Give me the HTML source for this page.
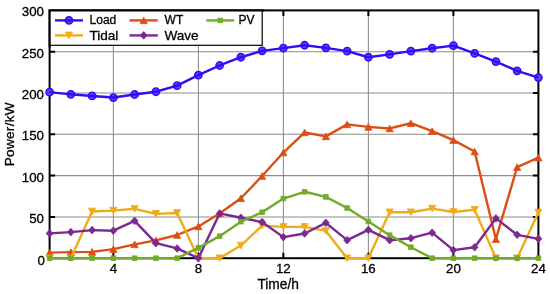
<!DOCTYPE html>
<html><head><meta charset="utf-8"><title>Power chart</title>
<style>
html,body{margin:0;padding:0;background:#fff;width:550px;height:294px;overflow:hidden}
svg text{font-family:"Liberation Sans",Arial,sans-serif;fill:#000;stroke:#000;stroke-width:0.3px}
</style></head><body>
<svg width="550" height="294" viewBox="0 0 550 294" style="display:block">
<rect width="550" height="294" fill="#fff"/>
<path d="M113.36 10.4V258.2M198.37 10.4V258.2M283.37 10.4V258.2M368.38 10.4V258.2M453.39 10.4V258.2M49.6 216.9H538.4M49.6 175.6H538.4M49.6 134.3H538.4M49.6 93H538.4M49.6 51.7H538.4" stroke="#8c8c8c" stroke-width="1.05" fill="none"/>
<path d="M113.36 258.2v-5.5M113.36 10.4v5.5M198.37 258.2v-5.5M198.37 10.4v5.5M283.37 258.2v-5.5M283.37 10.4v5.5M368.38 258.2v-5.5M368.38 10.4v5.5M453.39 258.2v-5.5M453.39 10.4v5.5M49.6 216.9h5.5M538.4 216.9h-5.5M49.6 175.6h5.5M538.4 175.6h-5.5M49.6 134.3h5.5M538.4 134.3h-5.5M49.6 93h5.5M538.4 93h-5.5M49.6 51.7h5.5M538.4 51.7h-5.5" stroke="#000" stroke-width="2" fill="none"/>
<rect x="49.6" y="10.4" width="488.8" height="247.8" fill="none" stroke="#000" stroke-width="2"/>
<circle cx="49.6" cy="92.17" r="3.65" fill="#5a44f6" stroke="#300cf8" stroke-width="1.5"/>
<circle cx="70.85" cy="94.32" r="3.65" fill="#5a44f6" stroke="#300cf8" stroke-width="1.5"/>
<circle cx="92.1" cy="95.97" r="3.65" fill="#5a44f6" stroke="#300cf8" stroke-width="1.5"/>
<circle cx="113.36" cy="97.54" r="3.65" fill="#5a44f6" stroke="#300cf8" stroke-width="1.5"/>
<circle cx="134.61" cy="94.49" r="3.65" fill="#5a44f6" stroke="#300cf8" stroke-width="1.5"/>
<circle cx="155.86" cy="91.76" r="3.65" fill="#5a44f6" stroke="#300cf8" stroke-width="1.5"/>
<circle cx="177.11" cy="85.65" r="3.65" fill="#5a44f6" stroke="#300cf8" stroke-width="1.5"/>
<circle cx="198.37" cy="75.16" r="3.65" fill="#5a44f6" stroke="#300cf8" stroke-width="1.5"/>
<circle cx="219.62" cy="65.49" r="3.65" fill="#5a44f6" stroke="#300cf8" stroke-width="1.5"/>
<circle cx="240.87" cy="57.23" r="3.65" fill="#5a44f6" stroke="#300cf8" stroke-width="1.5"/>
<circle cx="262.12" cy="50.87" r="3.65" fill="#5a44f6" stroke="#300cf8" stroke-width="1.5"/>
<circle cx="283.37" cy="48.07" r="3.65" fill="#5a44f6" stroke="#300cf8" stroke-width="1.5"/>
<circle cx="304.63" cy="45.26" r="3.65" fill="#5a44f6" stroke="#300cf8" stroke-width="1.5"/>
<circle cx="325.88" cy="47.82" r="3.65" fill="#5a44f6" stroke="#300cf8" stroke-width="1.5"/>
<circle cx="347.13" cy="51.12" r="3.65" fill="#5a44f6" stroke="#300cf8" stroke-width="1.5"/>
<circle cx="368.38" cy="57.23" r="3.65" fill="#5a44f6" stroke="#300cf8" stroke-width="1.5"/>
<circle cx="389.63" cy="54.34" r="3.65" fill="#5a44f6" stroke="#300cf8" stroke-width="1.5"/>
<circle cx="410.89" cy="51.12" r="3.65" fill="#5a44f6" stroke="#300cf8" stroke-width="1.5"/>
<circle cx="432.14" cy="48.23" r="3.65" fill="#5a44f6" stroke="#300cf8" stroke-width="1.5"/>
<circle cx="453.39" cy="45.67" r="3.65" fill="#5a44f6" stroke="#300cf8" stroke-width="1.5"/>
<circle cx="474.64" cy="53.35" r="3.65" fill="#5a44f6" stroke="#300cf8" stroke-width="1.5"/>
<circle cx="495.9" cy="61.61" r="3.65" fill="#5a44f6" stroke="#300cf8" stroke-width="1.5"/>
<circle cx="517.15" cy="70.78" r="3.65" fill="#5a44f6" stroke="#300cf8" stroke-width="1.5"/>
<circle cx="538.4" cy="77.55" r="3.65" fill="#5a44f6" stroke="#300cf8" stroke-width="1.5"/>
<polyline points="49.6,92.17 70.85,94.32 92.1,95.97 113.36,97.54 134.61,94.49 155.86,91.76 177.11,85.65 198.37,75.16 219.62,65.49 240.87,57.23 262.12,50.87 283.37,48.07 304.63,45.26 325.88,47.82 347.13,51.12 368.38,57.23 389.63,54.34 410.89,51.12 432.14,48.23 453.39,45.67 474.64,53.35 495.9,61.61 517.15,70.78 538.4,77.55" fill="none" stroke="#300cf8" stroke-width="2.4" stroke-linejoin="round"/>
<polyline points="49.6,252.58 70.85,252.09 92.1,251.92 113.36,249.11 134.61,244.32 155.86,240.44 177.11,234.99 198.37,226.4 219.62,213.43 240.87,198.23 262.12,176.01 283.37,152.55 304.63,132.48 325.88,136.37 347.13,124.39 368.38,126.87 389.63,128.44 410.89,123.23 432.14,131.16 453.39,140.08 474.64,151.56 495.9,239.2 517.15,167.09 538.4,157.59" fill="none" stroke="#dd4e15" stroke-width="2.4" stroke-linejoin="round"/>
<polygon points="49.6,249.28 53.2,255.88 46,255.88" fill="#dd4e15" stroke="#dd4e15" stroke-width="0.8" stroke-linejoin="round"/>
<polygon points="70.85,248.79 74.45,255.39 67.25,255.39" fill="#dd4e15" stroke="#dd4e15" stroke-width="0.8" stroke-linejoin="round"/>
<polygon points="92.1,248.62 95.7,255.22 88.5,255.22" fill="#dd4e15" stroke="#dd4e15" stroke-width="0.8" stroke-linejoin="round"/>
<polygon points="113.36,245.81 116.96,252.41 109.76,252.41" fill="#dd4e15" stroke="#dd4e15" stroke-width="0.8" stroke-linejoin="round"/>
<polygon points="134.61,241.02 138.21,247.62 131.01,247.62" fill="#dd4e15" stroke="#dd4e15" stroke-width="0.8" stroke-linejoin="round"/>
<polygon points="155.86,237.14 159.46,243.74 152.26,243.74" fill="#dd4e15" stroke="#dd4e15" stroke-width="0.8" stroke-linejoin="round"/>
<polygon points="177.11,231.69 180.71,238.29 173.51,238.29" fill="#dd4e15" stroke="#dd4e15" stroke-width="0.8" stroke-linejoin="round"/>
<polygon points="198.37,223.1 201.97,229.7 194.77,229.7" fill="#dd4e15" stroke="#dd4e15" stroke-width="0.8" stroke-linejoin="round"/>
<polygon points="219.62,210.13 223.22,216.73 216.02,216.73" fill="#dd4e15" stroke="#dd4e15" stroke-width="0.8" stroke-linejoin="round"/>
<polygon points="240.87,194.93 244.47,201.53 237.27,201.53" fill="#dd4e15" stroke="#dd4e15" stroke-width="0.8" stroke-linejoin="round"/>
<polygon points="262.12,172.71 265.72,179.31 258.52,179.31" fill="#dd4e15" stroke="#dd4e15" stroke-width="0.8" stroke-linejoin="round"/>
<polygon points="283.37,149.25 286.97,155.85 279.77,155.85" fill="#dd4e15" stroke="#dd4e15" stroke-width="0.8" stroke-linejoin="round"/>
<polygon points="304.63,129.18 308.23,135.78 301.03,135.78" fill="#dd4e15" stroke="#dd4e15" stroke-width="0.8" stroke-linejoin="round"/>
<polygon points="325.88,133.06 329.48,139.67 322.28,139.67" fill="#dd4e15" stroke="#dd4e15" stroke-width="0.8" stroke-linejoin="round"/>
<polygon points="347.13,121.09 350.73,127.69 343.53,127.69" fill="#dd4e15" stroke="#dd4e15" stroke-width="0.8" stroke-linejoin="round"/>
<polygon points="368.38,123.57 371.98,130.17 364.78,130.17" fill="#dd4e15" stroke="#dd4e15" stroke-width="0.8" stroke-linejoin="round"/>
<polygon points="389.63,125.14 393.23,131.74 386.03,131.74" fill="#dd4e15" stroke="#dd4e15" stroke-width="0.8" stroke-linejoin="round"/>
<polygon points="410.89,119.93 414.49,126.53 407.29,126.53" fill="#dd4e15" stroke="#dd4e15" stroke-width="0.8" stroke-linejoin="round"/>
<polygon points="432.14,127.86 435.74,134.46 428.54,134.46" fill="#dd4e15" stroke="#dd4e15" stroke-width="0.8" stroke-linejoin="round"/>
<polygon points="453.39,136.78 456.99,143.38 449.79,143.38" fill="#dd4e15" stroke="#dd4e15" stroke-width="0.8" stroke-linejoin="round"/>
<polygon points="474.64,148.26 478.24,154.86 471.04,154.86" fill="#dd4e15" stroke="#dd4e15" stroke-width="0.8" stroke-linejoin="round"/>
<polygon points="495.9,235.9 499.5,242.5 492.3,242.5" fill="#dd4e15" stroke="#dd4e15" stroke-width="0.8" stroke-linejoin="round"/>
<polygon points="517.15,163.79 520.75,170.39 513.55,170.39" fill="#dd4e15" stroke="#dd4e15" stroke-width="0.8" stroke-linejoin="round"/>
<polygon points="538.4,154.29 542,160.89 534.8,160.89" fill="#dd4e15" stroke="#dd4e15" stroke-width="0.8" stroke-linejoin="round"/>
<polyline points="49.6,258.2 70.85,258.2 92.1,211.45 113.36,210.62 134.61,208.81 155.86,213.84 177.11,212.94 198.37,258.2 219.62,258.2 240.87,245.56 262.12,225.66 283.37,226.89 304.63,226.89 325.88,230.94 347.13,258.2 368.38,258.2 389.63,212.27 410.89,212.27 432.14,208.64 453.39,211.94 474.64,209.8 495.9,258.2 517.15,258.2 538.4,212.44" fill="none" stroke="#eeac18" stroke-width="2.4" stroke-linejoin="round"/>
<polygon points="49.6,261.5 53.2,254.9 46,254.9" fill="#eeac18" stroke="#eeac18" stroke-width="0.8" stroke-linejoin="round"/>
<polygon points="70.85,261.5 74.45,254.9 67.25,254.9" fill="#eeac18" stroke="#eeac18" stroke-width="0.8" stroke-linejoin="round"/>
<polygon points="92.1,214.75 95.7,208.15 88.5,208.15" fill="#eeac18" stroke="#eeac18" stroke-width="0.8" stroke-linejoin="round"/>
<polygon points="113.36,213.92 116.96,207.32 109.76,207.32" fill="#eeac18" stroke="#eeac18" stroke-width="0.8" stroke-linejoin="round"/>
<polygon points="134.61,212.11 138.21,205.51 131.01,205.51" fill="#eeac18" stroke="#eeac18" stroke-width="0.8" stroke-linejoin="round"/>
<polygon points="155.86,217.14 159.46,210.54 152.26,210.54" fill="#eeac18" stroke="#eeac18" stroke-width="0.8" stroke-linejoin="round"/>
<polygon points="177.11,216.24 180.71,209.64 173.51,209.64" fill="#eeac18" stroke="#eeac18" stroke-width="0.8" stroke-linejoin="round"/>
<polygon points="198.37,261.5 201.97,254.9 194.77,254.9" fill="#eeac18" stroke="#eeac18" stroke-width="0.8" stroke-linejoin="round"/>
<polygon points="219.62,261.5 223.22,254.9 216.02,254.9" fill="#eeac18" stroke="#eeac18" stroke-width="0.8" stroke-linejoin="round"/>
<polygon points="240.87,248.86 244.47,242.26 237.27,242.26" fill="#eeac18" stroke="#eeac18" stroke-width="0.8" stroke-linejoin="round"/>
<polygon points="262.12,228.96 265.72,222.36 258.52,222.36" fill="#eeac18" stroke="#eeac18" stroke-width="0.8" stroke-linejoin="round"/>
<polygon points="283.37,230.19 286.97,223.59 279.77,223.59" fill="#eeac18" stroke="#eeac18" stroke-width="0.8" stroke-linejoin="round"/>
<polygon points="304.63,230.19 308.23,223.59 301.03,223.59" fill="#eeac18" stroke="#eeac18" stroke-width="0.8" stroke-linejoin="round"/>
<polygon points="325.88,234.24 329.48,227.64 322.28,227.64" fill="#eeac18" stroke="#eeac18" stroke-width="0.8" stroke-linejoin="round"/>
<polygon points="347.13,261.5 350.73,254.9 343.53,254.9" fill="#eeac18" stroke="#eeac18" stroke-width="0.8" stroke-linejoin="round"/>
<polygon points="368.38,261.5 371.98,254.9 364.78,254.9" fill="#eeac18" stroke="#eeac18" stroke-width="0.8" stroke-linejoin="round"/>
<polygon points="389.63,215.57 393.23,208.97 386.03,208.97" fill="#eeac18" stroke="#eeac18" stroke-width="0.8" stroke-linejoin="round"/>
<polygon points="410.89,215.57 414.49,208.97 407.29,208.97" fill="#eeac18" stroke="#eeac18" stroke-width="0.8" stroke-linejoin="round"/>
<polygon points="432.14,211.94 435.74,205.34 428.54,205.34" fill="#eeac18" stroke="#eeac18" stroke-width="0.8" stroke-linejoin="round"/>
<polygon points="453.39,215.24 456.99,208.64 449.79,208.64" fill="#eeac18" stroke="#eeac18" stroke-width="0.8" stroke-linejoin="round"/>
<polygon points="474.64,213.1 478.24,206.5 471.04,206.5" fill="#eeac18" stroke="#eeac18" stroke-width="0.8" stroke-linejoin="round"/>
<polygon points="495.9,261.5 499.5,254.9 492.3,254.9" fill="#eeac18" stroke="#eeac18" stroke-width="0.8" stroke-linejoin="round"/>
<polygon points="517.15,261.5 520.75,254.9 513.55,254.9" fill="#eeac18" stroke="#eeac18" stroke-width="0.8" stroke-linejoin="round"/>
<polygon points="538.4,215.74 542,209.14 534.8,209.14" fill="#eeac18" stroke="#eeac18" stroke-width="0.8" stroke-linejoin="round"/>
<polyline points="49.6,233.42 70.85,232.1 92.1,230.12 113.36,230.69 134.61,220.86 155.86,243.17 177.11,248.45 198.37,258.2 219.62,213.43 240.87,217.73 262.12,222.1 283.37,237.14 304.63,233.5 325.88,222.85 347.13,240.19 368.38,229.87 389.63,240.19 410.89,238.21 432.14,232.68 453.39,250.11 474.64,247.3 495.9,218.39 517.15,234.82 538.4,238.87" fill="none" stroke="#7b2890" stroke-width="2.4" stroke-linejoin="round"/>
<polygon points="49.6,229.62 53,233.42 49.6,237.22 46.2,233.42" fill="#7b2890" stroke="#7b2890" stroke-width="0.8" stroke-linejoin="round"/>
<polygon points="70.85,228.3 74.25,232.1 70.85,235.9 67.45,232.1" fill="#7b2890" stroke="#7b2890" stroke-width="0.8" stroke-linejoin="round"/>
<polygon points="92.1,226.32 95.5,230.12 92.1,233.92 88.7,230.12" fill="#7b2890" stroke="#7b2890" stroke-width="0.8" stroke-linejoin="round"/>
<polygon points="113.36,226.89 116.76,230.69 113.36,234.49 109.96,230.69" fill="#7b2890" stroke="#7b2890" stroke-width="0.8" stroke-linejoin="round"/>
<polygon points="134.61,217.06 138.01,220.86 134.61,224.66 131.21,220.86" fill="#7b2890" stroke="#7b2890" stroke-width="0.8" stroke-linejoin="round"/>
<polygon points="155.86,239.37 159.26,243.17 155.86,246.97 152.46,243.17" fill="#7b2890" stroke="#7b2890" stroke-width="0.8" stroke-linejoin="round"/>
<polygon points="177.11,244.65 180.51,248.45 177.11,252.25 173.71,248.45" fill="#7b2890" stroke="#7b2890" stroke-width="0.8" stroke-linejoin="round"/>
<polygon points="198.37,254.4 201.77,258.2 198.37,262 194.97,258.2" fill="#7b2890" stroke="#7b2890" stroke-width="0.8" stroke-linejoin="round"/>
<polygon points="219.62,209.63 223.02,213.43 219.62,217.23 216.22,213.43" fill="#7b2890" stroke="#7b2890" stroke-width="0.8" stroke-linejoin="round"/>
<polygon points="240.87,213.93 244.27,217.73 240.87,221.53 237.47,217.73" fill="#7b2890" stroke="#7b2890" stroke-width="0.8" stroke-linejoin="round"/>
<polygon points="262.12,218.3 265.52,222.1 262.12,225.9 258.72,222.1" fill="#7b2890" stroke="#7b2890" stroke-width="0.8" stroke-linejoin="round"/>
<polygon points="283.37,233.34 286.77,237.14 283.37,240.94 279.97,237.14" fill="#7b2890" stroke="#7b2890" stroke-width="0.8" stroke-linejoin="round"/>
<polygon points="304.63,229.7 308.03,233.5 304.63,237.3 301.23,233.5" fill="#7b2890" stroke="#7b2890" stroke-width="0.8" stroke-linejoin="round"/>
<polygon points="325.88,219.05 329.28,222.85 325.88,226.65 322.48,222.85" fill="#7b2890" stroke="#7b2890" stroke-width="0.8" stroke-linejoin="round"/>
<polygon points="347.13,236.39 350.53,240.19 347.13,243.99 343.73,240.19" fill="#7b2890" stroke="#7b2890" stroke-width="0.8" stroke-linejoin="round"/>
<polygon points="368.38,226.07 371.78,229.87 368.38,233.67 364.98,229.87" fill="#7b2890" stroke="#7b2890" stroke-width="0.8" stroke-linejoin="round"/>
<polygon points="389.63,236.39 393.03,240.19 389.63,243.99 386.23,240.19" fill="#7b2890" stroke="#7b2890" stroke-width="0.8" stroke-linejoin="round"/>
<polygon points="410.89,234.41 414.29,238.21 410.89,242.01 407.49,238.21" fill="#7b2890" stroke="#7b2890" stroke-width="0.8" stroke-linejoin="round"/>
<polygon points="432.14,228.88 435.54,232.68 432.14,236.48 428.74,232.68" fill="#7b2890" stroke="#7b2890" stroke-width="0.8" stroke-linejoin="round"/>
<polygon points="453.39,246.31 456.79,250.11 453.39,253.91 449.99,250.11" fill="#7b2890" stroke="#7b2890" stroke-width="0.8" stroke-linejoin="round"/>
<polygon points="474.64,243.5 478.04,247.3 474.64,251.1 471.24,247.3" fill="#7b2890" stroke="#7b2890" stroke-width="0.8" stroke-linejoin="round"/>
<polygon points="495.9,214.59 499.3,218.39 495.9,222.19 492.5,218.39" fill="#7b2890" stroke="#7b2890" stroke-width="0.8" stroke-linejoin="round"/>
<polygon points="517.15,231.02 520.55,234.82 517.15,238.62 513.75,234.82" fill="#7b2890" stroke="#7b2890" stroke-width="0.8" stroke-linejoin="round"/>
<polygon points="538.4,235.07 541.8,238.87 538.4,242.67 535,238.87" fill="#7b2890" stroke="#7b2890" stroke-width="0.8" stroke-linejoin="round"/>
<polyline points="49.6,258.2 70.85,258.2 92.1,258.2 113.36,258.2 134.61,258.2 155.86,258.2 177.11,258.2 198.37,247.88 219.62,236.15 240.87,221.69 262.12,212.27 283.37,198.56 304.63,191.79 325.88,196.91 347.13,208.06 368.38,221.53 389.63,235.15 410.89,247.21 432.14,258.2 453.39,258.2 474.64,258.2 495.9,258.2 517.15,258.2 538.4,258.2" fill="none" stroke="#72aa2a" stroke-width="2.4" stroke-linejoin="round"/>
<rect x="47.3" y="255.9" width="4.6" height="4.6" fill="#72aa2a" stroke="#72aa2a" stroke-width="0.8"/>
<rect x="68.55" y="255.9" width="4.6" height="4.6" fill="#72aa2a" stroke="#72aa2a" stroke-width="0.8"/>
<rect x="89.8" y="255.9" width="4.6" height="4.6" fill="#72aa2a" stroke="#72aa2a" stroke-width="0.8"/>
<rect x="111.06" y="255.9" width="4.6" height="4.6" fill="#72aa2a" stroke="#72aa2a" stroke-width="0.8"/>
<rect x="132.31" y="255.9" width="4.6" height="4.6" fill="#72aa2a" stroke="#72aa2a" stroke-width="0.8"/>
<rect x="153.56" y="255.9" width="4.6" height="4.6" fill="#72aa2a" stroke="#72aa2a" stroke-width="0.8"/>
<rect x="174.81" y="255.9" width="4.6" height="4.6" fill="#72aa2a" stroke="#72aa2a" stroke-width="0.8"/>
<rect x="196.07" y="245.57" width="4.6" height="4.6" fill="#72aa2a" stroke="#72aa2a" stroke-width="0.8"/>
<rect x="217.32" y="233.85" width="4.6" height="4.6" fill="#72aa2a" stroke="#72aa2a" stroke-width="0.8"/>
<rect x="238.57" y="219.39" width="4.6" height="4.6" fill="#72aa2a" stroke="#72aa2a" stroke-width="0.8"/>
<rect x="259.82" y="209.97" width="4.6" height="4.6" fill="#72aa2a" stroke="#72aa2a" stroke-width="0.8"/>
<rect x="281.07" y="196.26" width="4.6" height="4.6" fill="#72aa2a" stroke="#72aa2a" stroke-width="0.8"/>
<rect x="302.33" y="189.49" width="4.6" height="4.6" fill="#72aa2a" stroke="#72aa2a" stroke-width="0.8"/>
<rect x="323.58" y="194.61" width="4.6" height="4.6" fill="#72aa2a" stroke="#72aa2a" stroke-width="0.8"/>
<rect x="344.83" y="205.76" width="4.6" height="4.6" fill="#72aa2a" stroke="#72aa2a" stroke-width="0.8"/>
<rect x="366.08" y="219.23" width="4.6" height="4.6" fill="#72aa2a" stroke="#72aa2a" stroke-width="0.8"/>
<rect x="387.33" y="232.85" width="4.6" height="4.6" fill="#72aa2a" stroke="#72aa2a" stroke-width="0.8"/>
<rect x="408.59" y="244.91" width="4.6" height="4.6" fill="#72aa2a" stroke="#72aa2a" stroke-width="0.8"/>
<rect x="429.84" y="255.9" width="4.6" height="4.6" fill="#72aa2a" stroke="#72aa2a" stroke-width="0.8"/>
<rect x="451.09" y="255.9" width="4.6" height="4.6" fill="#72aa2a" stroke="#72aa2a" stroke-width="0.8"/>
<rect x="472.34" y="255.9" width="4.6" height="4.6" fill="#72aa2a" stroke="#72aa2a" stroke-width="0.8"/>
<rect x="493.6" y="255.9" width="4.6" height="4.6" fill="#72aa2a" stroke="#72aa2a" stroke-width="0.8"/>
<rect x="514.85" y="255.9" width="4.6" height="4.6" fill="#72aa2a" stroke="#72aa2a" stroke-width="0.8"/>
<rect x="536.1" y="255.9" width="4.6" height="4.6" fill="#72aa2a" stroke="#72aa2a" stroke-width="0.8"/>
<rect x="49.6" y="10.4" width="212.6" height="34.9" fill="#fff" stroke="#000" stroke-width="1.2"/>
<path d="M49.6 47.3V10.4H264.2" stroke="#000" stroke-width="2" fill="none"/>
<circle cx="69" cy="20.4" r="3.65" fill="#5a44f6" stroke="#300cf8" stroke-width="1.5"/>
<path d="M55 20.4H83" stroke="#300cf8" stroke-width="2.4"/>
<text x="89.6" y="24.1" font-size="12">Load</text>
<path d="M129.5 20.4H157.8" stroke="#dd4e15" stroke-width="2.4"/>
<polygon points="143.65,17.1 147.25,23.7 140.05,23.7" fill="#dd4e15" stroke="#dd4e15" stroke-width="0.8" stroke-linejoin="round"/>
<text x="164.6" y="24.1" font-size="12">WT</text>
<path d="M206.3 20.4H234.3" stroke="#72aa2a" stroke-width="2.4"/>
<rect x="218" y="18.1" width="4.6" height="4.6" fill="#72aa2a" stroke="#72aa2a" stroke-width="0.8"/>
<text x="238.6" y="24.1" font-size="12">PV</text>
<path d="M55 35.4H83" stroke="#eeac18" stroke-width="2.4"/>
<polygon points="69,38.7 72.6,32.1 65.4,32.1" fill="#eeac18" stroke="#eeac18" stroke-width="0.8" stroke-linejoin="round"/>
<text x="89.4" y="40.2" font-size="13.6">Tidal</text>
<path d="M129.5 35.4H157.8" stroke="#7b2890" stroke-width="2.4"/>
<polygon points="143.65,31.6 147.05,35.4 143.65,39.2 140.25,35.4" fill="#7b2890" stroke="#7b2890" stroke-width="0.8" stroke-linejoin="round"/>
<text x="164.4" y="40.2" font-size="13.6">Wave</text>
<text x="45" y="264.8" font-size="13.3" text-anchor="end">0</text>
<text x="44" y="222.9" font-size="13.3" text-anchor="end">50</text>
<text x="44" y="181.6" font-size="13.3" text-anchor="end">100</text>
<text x="44" y="140.3" font-size="13.3" text-anchor="end">150</text>
<text x="44" y="99" font-size="13.3" text-anchor="end">200</text>
<text x="44" y="57.7" font-size="13.3" text-anchor="end">250</text>
<text x="44" y="16.4" font-size="13.3" text-anchor="end">300</text>
<text x="113.36" y="272.9" font-size="13.3" text-anchor="middle">4</text>
<text x="198.37" y="272.9" font-size="13.3" text-anchor="middle">8</text>
<text x="283.37" y="272.9" font-size="13.3" text-anchor="middle">12</text>
<text x="368.38" y="272.9" font-size="13.3" text-anchor="middle">16</text>
<text x="453.39" y="272.9" font-size="13.3" text-anchor="middle">20</text>
<text x="538.4" y="272.9" font-size="13.3" text-anchor="middle">24</text>
<text x="278.2" y="289.4" font-size="14.2" text-anchor="middle" textLength="41.6" lengthAdjust="spacingAndGlyphs">Time/h</text>
<text transform="translate(14.4 134.3) rotate(-90)" font-size="13.6" text-anchor="middle" textLength="64" lengthAdjust="spacing">Power/kW</text>
</svg>
</body></html>
